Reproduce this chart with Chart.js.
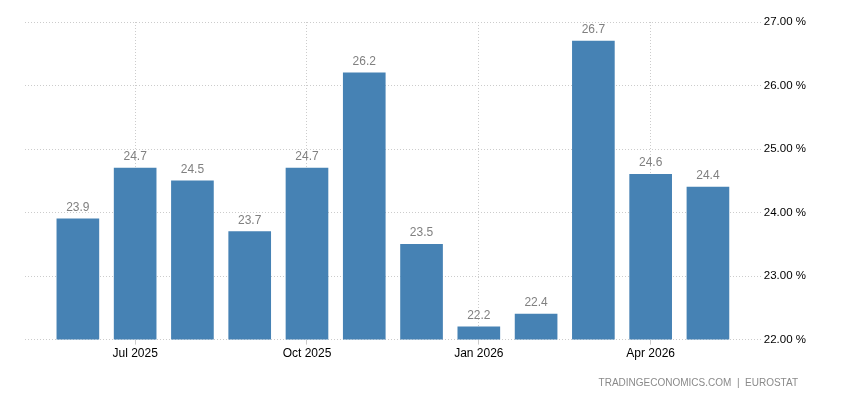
<!DOCTYPE html>
<html>
<head>
<meta charset="utf-8">
<script src="https://cdn.jsdelivr.net/npm/chart.js@4/dist/chart.umd.min.js"></script>
<style>
  html, body { margin: 0; padding: 0; background: #fff; }
  #wrap { width: 850px; height: 400px; position: relative; }
</style>
</head>
<body>
<div id="wrap"><canvas id="c"></canvas></div>
<script>
const months = ['Jun 2025','Jul 2025','Aug 2025','Sep 2025','Oct 2025','Nov 2025','Dec 2025','Jan 2026','Feb 2026','Mar 2026','Apr 2026','May 2026'];
const values = [23.9, 24.7, 24.5, 23.7, 24.7, 26.2, 23.5, 22.2, 22.4, 26.7, 24.6, 24.4];
const xTickIndices = [1, 4, 7, 10];
const xTickLabels = ['Jul 2025', 'Oct 2025', 'Jan 2026', 'Apr 2026'];
const yMin = 22, yMax = 27;
const sourceText = 'TRADINGECONOMICS.COM  |  EUROSTAT';

const FONT = "'Liberation Sans', Arial, sans-serif";

const valueLabels = {
  id: 'valueLabels',
  afterDatasetsDraw(chart) {
    const ctx = chart.ctx;
    const meta = chart.getDatasetMeta(0);
    ctx.save();
    ctx.font = '12px ' + FONT;
    ctx.fillStyle = '#808080';
    ctx.textAlign = 'center';
    ctx.textBaseline = 'alphabetic';
    meta.data.forEach((el, i) => {
      ctx.fillText(values[i].toFixed(1), el.x, el.y - 8);
    });
    ctx.restore();
  }
};

const footer = {
  id: 'footer',
  afterDraw(chart) {
    const ctx = chart.ctx;
    ctx.save();
    ctx.font = '10px ' + FONT;
    ctx.fillStyle = '#8a8a8a';
    ctx.textAlign = 'right';
    ctx.textBaseline = 'middle';
    ctx.fillText(sourceText, 798, 383);
    ctx.restore();
  }
};

new Chart(document.getElementById('c'), {
  type: 'bar',
  data: {
    datasets: [{
      data: values.map((v, i) => ({ x: i, y: v })),
      backgroundColor: '#4682b4',
      barThickness: 42
    }]
  },
  options: {
    responsive: true,
    maintainAspectRatio: false,
    animation: false,
    layout: { padding: { left: 25, right: 41, top: 22, bottom: 37 } },
    plugins: { legend: { display: false }, tooltip: { enabled: false } },
    scales: {
      x: {
        type: 'linear',
        offset: false,
        min: -0.923,
        max: 11.923,
        afterBuildTicks(axis) {
          axis.ticks = xTickIndices.map(v => ({ value: v }));
        },
        ticks: {
          autoSkip: false,
          maxRotation: 0,
          color: '#000',
          font: { size: 12, family: FONT },
          padding: 2,
          callback(v) {
            const k = xTickIndices.indexOf(v);
            return k >= 0 ? xTickLabels[k] : '';
          }
        },
        grid: { color: '#cccccc', offset: false, drawTicks: true, tickLength: 5 },
        border: { display: false, dash: [1, 2] }
      },
      y: {
        position: 'right',
        min: yMin,
        max: yMax,
        ticks: {
          stepSize: 1,
          color: '#000',
          font: { size: 11.5, family: FONT },
          padding: 3,
          callback(v) { return v.toFixed(2) + ' %'; }
        },
        grid: { color: '#cccccc', offset: false, drawTicks: false },
        border: { display: false, dash: [1, 2] }
      }
    }
  },
  plugins: [valueLabels, footer]
});
</script>
</body>
</html>
